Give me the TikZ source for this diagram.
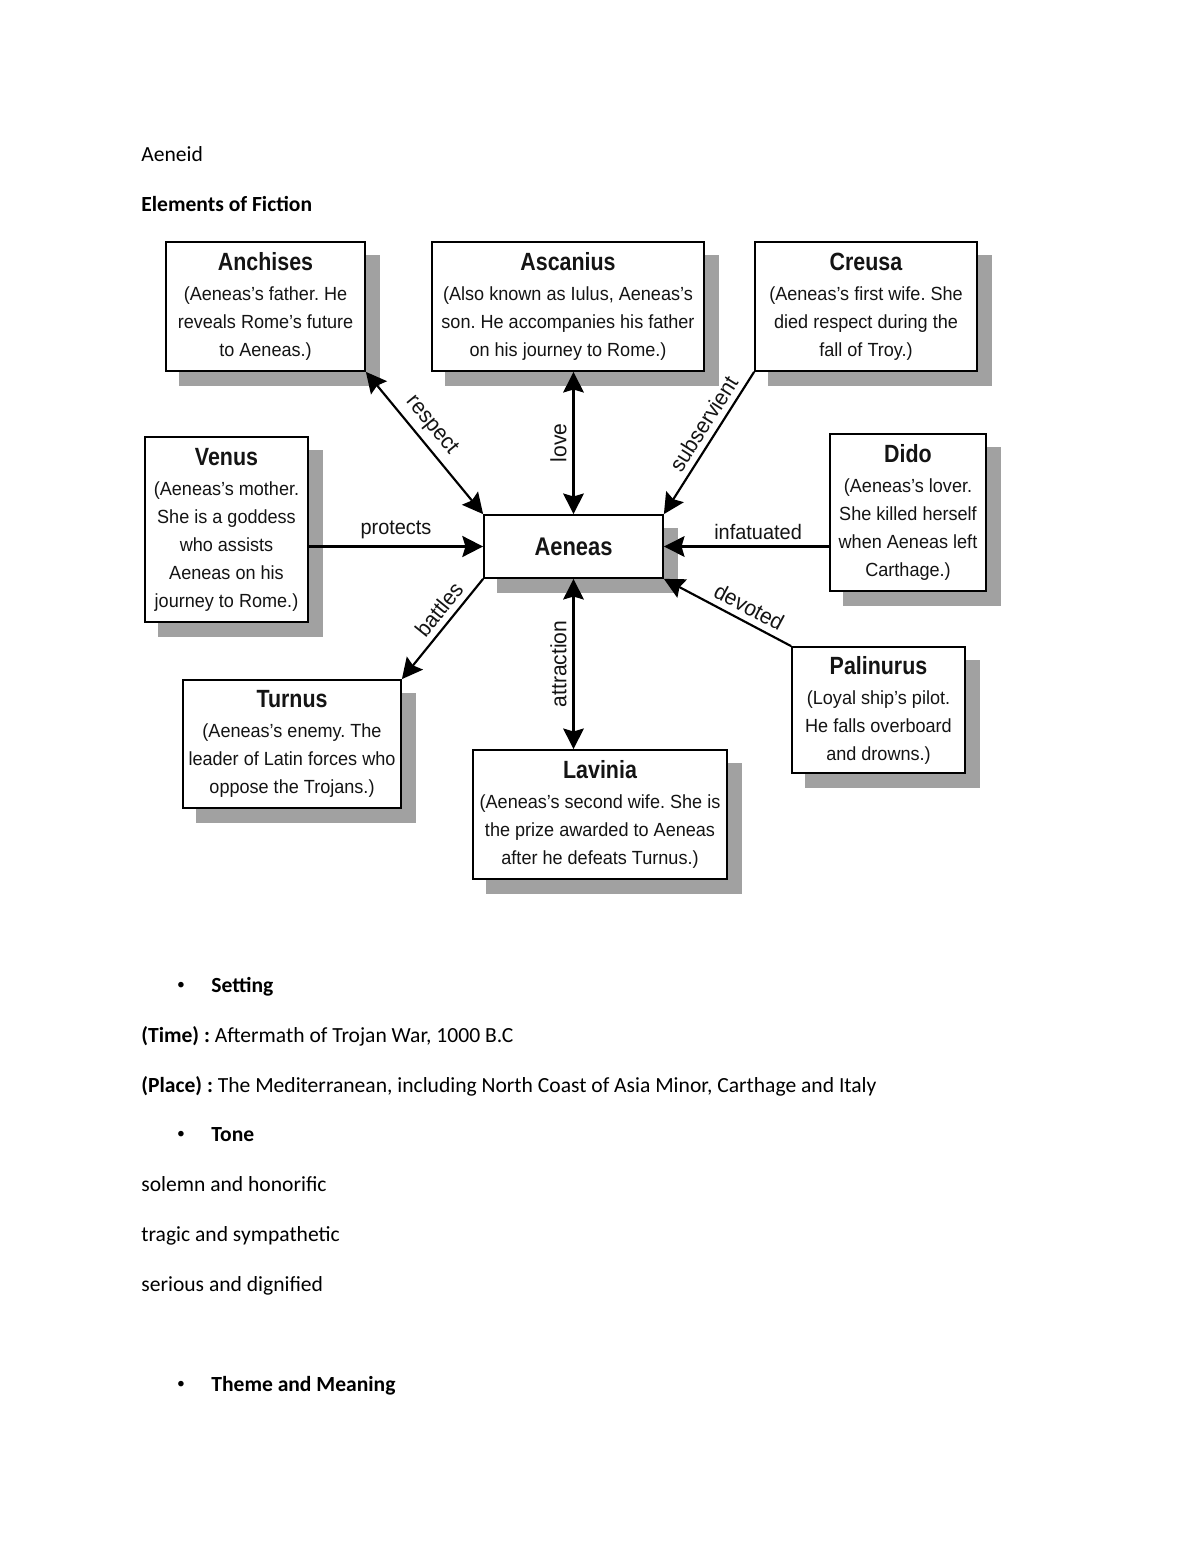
\documentclass[tikz,border=0pt]{standalone}
\usepackage{fontspec}
\setmainfont{Carlito}
\newfontfamily\dfont[FakeStretch=0.95]{Liberation Sans}
\newfontfamily\hfont[FakeStretch=0.86]{Liberation Sans}
\usetikzlibrary{arrows.meta}
\pgfdeclarelayer{bg}
\pgfsetlayers{bg,main}
\definecolor{shadowgray}{gray}{0.63}
\definecolor{dtext}{gray}{0.08}
\newcommand\hdfont{\hfont\fontsize{12.7pt}{14.3pt}\selectfont\bfseries}
\frenchspacing
\begin{document}
\begin{tikzpicture}[x=0.51pt, y=-0.51pt,
  box/.style n args={2}{draw=black, line width=0.9pt, fill=white,
    minimum width=#1*0.51pt, minimum height=#2*0.51pt, inner sep=0pt,
    align=center, text=dtext, font=\dfont\fontsize{9.7pt}{14.3pt}\selectfont},
  conn/.style={line width=1.1pt, >={Stealth[length=10.5pt,width=10.5pt,inset=1.5pt]}},
  elabel/.style={font=\dfont\fontsize{10.7pt}{12pt}\selectfont, text=dtext, inner sep=3pt},
  rlabel/.style={font=\dfont\fontsize{11.3pt}{12pt}\selectfont, text=dtext, inner sep=3pt},
  pagetext/.style={font=\fontsize{11pt}{13pt}\selectfont, inner sep=0pt, anchor=base west},
  bul/.style={font=\fontsize{8pt}{9pt}\selectfont, inner sep=0pt}
]
\useasboundingbox (0,0) rectangle (1200,1553);
\begin{pgfonlayer}{bg}
  \fill[white] (0,0) rectangle (1200,1553);
\end{pgfonlayer}

% page text
\node[pagetext] (title) at (141,162) {Aeneid};
\node[pagetext] (elements) at (141,212) {\bfseries Elements of Fiction};

% boxes
\node[box={199}{129}] (anchises) at (265.5,306.5)
  {{\hdfont Anchises}\\[1pt](Aeneas’s father. He\\reveals Rome’s future\\to Aeneas.)};
\node[box={272}{129}] (ascanius) at (568,306.5)
  {{\hdfont Ascanius}\\[1pt](Also known as Iulus, Aeneas’s\\son. He accompanies his father\\on his journey to Rome.)};
\node[box={222}{129}] (creusa) at (866,306.5)
  {{\hdfont Creusa}\\[1pt](Aeneas’s first wife. She\\died respect during the\\fall of Troy.)};
\node[box={163}{185}] (venus) at (226.5,529.5)
  {{\hdfont Venus}\\[1pt](Aeneas’s mother.\\She is a goddess\\who assists\\Aeneas on his\\journey to Rome.)};
\node[box={179}{63}] (aeneas) at (573.5,546.5)
  {\hfont\fontsize{13pt}{14pt}\selectfont\bfseries Aeneas};
\node[box={156}{157}] (dido) at (908,512.5)
  {{\hdfont Dido}\\[1pt](Aeneas’s lover.\\She killed herself\\when Aeneas left\\Carthage.)};
\node[box={218}{128}] (turnus) at (292,744)
  {{\hdfont Turnus}\\[1pt](Aeneas’s enemy. The\\leader of Latin forces who\\oppose the Trojans.)};
\node[box={254}{129}] (lavinia) at (600,814.5)
  {{\hdfont Lavinia}\\[1pt](Aeneas’s second wife. She is\\the prize awarded to Aeneas\\after he defeats Turnus.)};
\node[box={173}{126}] (palinurus) at (878.5,710)
  {{\hdfont Palinurus}\\[1pt](Loyal ship’s pilot.\\He falls overboard\\and drowns.)};

% shadows
\begin{pgfonlayer}{bg}
  \foreach \n in {anchises,ascanius,creusa,venus,aeneas,dido,turnus,lavinia,palinurus}
    \fill[shadowgray] ([shift={(7.1pt,-7.1pt)}]\n.south west) rectangle ([shift={(7.1pt,-7.1pt)}]\n.north east);
\end{pgfonlayer}

% connectors
\draw[conn,<->] (anchises.south east) -- node[rlabel, sloped, above, pos=0.45] {respect} (aeneas.north west);
\draw[conn,<->] (aeneas.north |- ascanius.south) -- node[rlabel, midway, rotate=90, anchor=south] {love} (aeneas.north);
\draw[conn,->] (creusa.south west) -- node[rlabel, sloped, above, pos=0.42] {subservient} (aeneas.north east);
\draw[conn,->,line width=2pt] (venus.east |- aeneas.west) -- node[elabel, above, midway] {protects} (aeneas.west);
\draw[conn,->] (dido.west |- aeneas.east) -- node[elabel, above, pos=0.43] {infatuated} (aeneas.east);
\draw[conn,->] (aeneas.south west) -- node[rlabel, sloped, above, pos=0.4] {battles} (turnus.north east);
\draw[conn,<->] (aeneas.south) -- node[rlabel, midway, rotate=90, anchor=south] {attraction} (aeneas.south |- lavinia.north);
\draw[conn,->] (palinurus.north west) -- node[rlabel, sloped, above, pos=0.385] {devoted} (aeneas.south east);

% lower page text
\node[bul] (b1) at (181,986) {\textbullet};
\node[pagetext] (setting) at (211,992) {\bfseries Setting};
\node[pagetext] (time) at (141,1042) {{\bfseries (Time) :} Aftermath of Trojan War, 1000 B.C};
\node[pagetext] (place) at (141,1092) {{\bfseries (Place) :} The Mediterranean, including North Coast of Asia Minor, Carthage and Italy};
\node[bul] (b2) at (181,1135) {\textbullet};
\node[pagetext] (tone) at (211,1141) {\bfseries Tone};
\node[pagetext] (t1) at (141,1191) {solemn and honorific};
\node[pagetext] (t2) at (141,1241) {tragic and sympathetic};
\node[pagetext] (t3) at (141,1291) {serious and dignified};
\node[bul] (b3) at (181,1385) {\textbullet};
\node[pagetext] (theme) at (211,1391) {\bfseries Theme and Meaning};
\end{tikzpicture}
\end{document}
